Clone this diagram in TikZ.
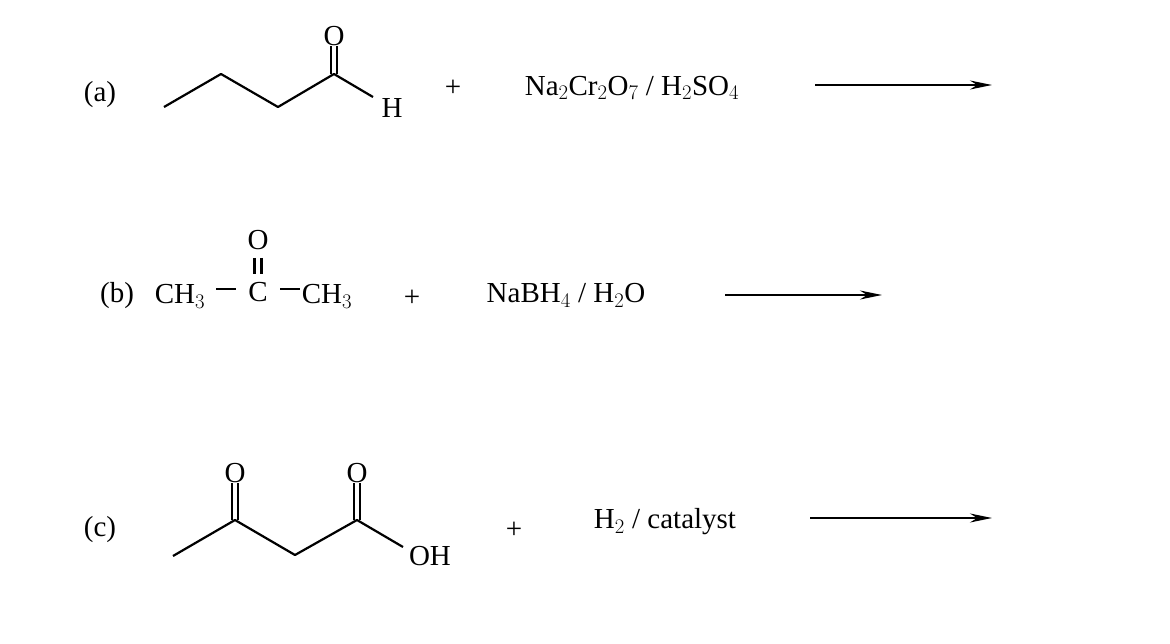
\documentclass[tikz,border=0pt]{standalone}
\usepackage{fontspec}
\setmainfont{Liberation Serif}
\usetikzlibrary{arrows.meta}
\begin{document}
\begin{tikzpicture}[x=1pt,y=-1pt,
  bond/.style={line width=2.2pt,line join=round},
  lab/.style={font=\fontsize{29}{32}\selectfont,inner sep=0pt},
  rxn/.style={line width=2pt,-{Stealth[length=22pt,width=9pt]}}]
\useasboundingbox (0,0) rectangle (1170,644);
% (a)
\node[lab] (la) at (100,95) {(a)};
\coordinate (a1) at (164,107);
\coordinate (a2) at (221,74);
\coordinate (a3) at (278,107);
\coordinate (a4) at (334,74);
\node[lab] (aO) at (334,36) {O};
\node[lab] (aH) at (392,108) {H};
\draw[bond] (a1)--(a2)--(a3)--(a4)--(373,97);
\draw[bond] ([xshift=-3pt]a4)--([xshift=-3pt]aO.south);
\draw[bond] ([xshift=3pt]a4)--([xshift=3pt]aO.south);
\node[lab] (pa) at (453,88) {+};
\node[lab] (ra) at (632,88) {Na$_2$Cr$_2$O$_7$ / H$_2$SO$_4$};
\coordinate (aS) at (815,85);
\coordinate (aE) at (992,85);
\draw[rxn] (aS)--(aE);
% (b)
\node[lab,anchor=west] (lb) at (100,296) {(b)};
\node[lab] (bL) at (180,296) {CH$_3$};
\node[lab] (bC) at (258,292) {C};
\node[lab] (bR) at (327,296) {CH$_3$};
\node[lab] (bO) at (258,240) {O};
\draw[bond] (216,289)--(236,289);
\draw[bond] (280,289)--(300,289);
\draw[bond] (254.5,258)--(254.5,274);
\draw[bond] (261.5,258)--(261.5,274);
\node[lab] (pb) at (412,298) {+};
\node[lab] (rb) at (566,295) {NaBH$_4$ / H$_2$O};
\coordinate (bS) at (725,295);
\coordinate (bE) at (882,295);
\draw[rxn] (bS)--(bE);
% (c)
\node[lab] (lc) at (100,530) {(c)};
\coordinate (c1) at (173,556);
\coordinate (c2) at (235,520);
\coordinate (c3) at (295,555);
\coordinate (c4) at (357,520);
\node[lab] (cO1) at (235,473) {O};
\node[lab] (cO2) at (357,473) {O};
\node[lab] (cOH) at (430,556) {OH};
\draw[bond] (c1)--(c2)--(c3)--(c4)--(403,547);
\draw[bond] ([xshift=-3pt]c2)--([xshift=-3pt]cO1.south);
\draw[bond] ([xshift=3pt]c2)--([xshift=3pt]cO1.south);
\draw[bond] ([xshift=-3pt]c4)--([xshift=-3pt]cO2.south);
\draw[bond] ([xshift=3pt]c4)--([xshift=3pt]cO2.south);
\node[lab] (pc) at (514,530) {+};
\node[lab] (rc) at (665,522) {H$_2$ / catalyst};
\coordinate (cS) at (810,518);
\coordinate (cE) at (992,518);
\draw[rxn] (cS)--(cE);
\end{tikzpicture}
\end{document}
